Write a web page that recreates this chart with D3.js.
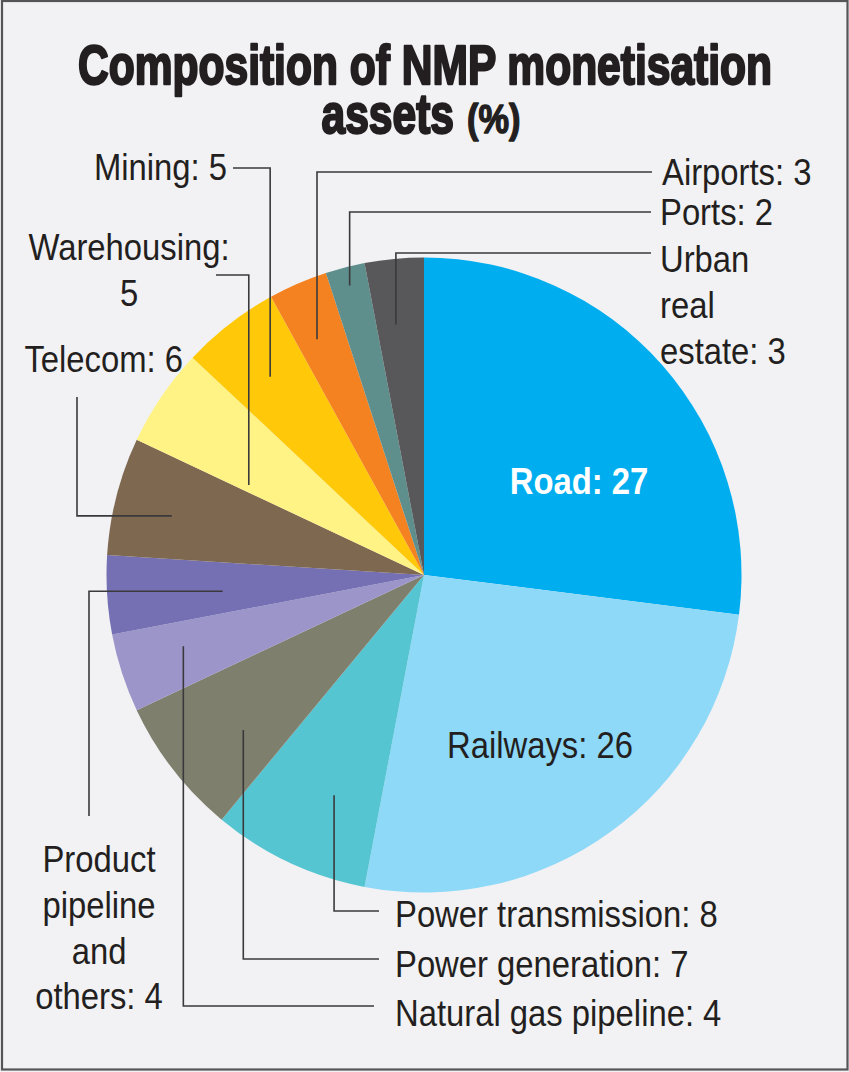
<!DOCTYPE html>
<html>
<head>
<meta charset="utf-8">
<script src="https://cdn.jsdelivr.net/npm/d3@7"></script>
<style>
  html, body { margin: 0; padding: 0; background: #f2f2f4; }
  svg { display: block; }
  text { font-family: "Liberation Sans", Arial, sans-serif; fill: #231f20; }
</style>
</head>
<body>
<div id="chart"></div>
<script>
// data (clockwise from 12 o'clock)
const categories = ["Road", "Railways", "Power transmission", "Power generation",
  "Natural gas pipeline", "Product pipeline and others", "Telecom", "Warehousing",
  "Mining", "Airports", "Ports", "Urban real estate"];
const shares = [27, 26, 8, 7, 4, 4, 6, 5, 5, 3, 2, 3];
const colours = ["#00aeef", "#8ed8f8", "#55c5d1", "#7f7f6e", "#9c95c9", "#7470b3",
  "#7e6850", "#fff385", "#ffc90a", "#f58220", "#5f8f8d", "#58585a"];
const labelLines = [
  ["Road: 27"], ["Railways: 26"], ["Power transmission: 8"], ["Power generation: 7"],
  ["Natural gas pipeline: 4"], ["Product", "pipeline", "and", "others: 4"], ["Telecom: 6"],
  ["Warehousing:", "5"], ["Mining: 5"], ["Airports: 3"], ["Ports: 2"], ["Urban", "real", "estate: 3"]
];

let W = 849, H = 1072;
let cx = 424, cy = 575, R = 317.5;
let fontSize = 37.5, squeeze = 0.875, lineGap = 45.8;

// label placement: leader start inside the slice (radius, angle nudge in degrees), its bend, and the text spot
let layout = {
  "Road":                        { inside: true, x: 579, y: 494, anchor: "middle", bold: true, fill: "#ffffff" },
  "Railways":                    { inside: true, x: 540, y: 758, anchor: "middle" },
  "Power transmission":          { r: 238, da: -3, path: "vh", turn: 911, end: 379, x: 395, y: 927, anchor: "start" },
  "Power generation":            { r: 238, da: -2.8, path: "vh", turn: 959, end: 379, x: 395, y: 977, anchor: "start" },
  "Natural gas pipeline":        { r: 251, da: 1.5, path: "vh", turn: 1006, end: 374, x: 395, y: 1026, anchor: "start" },
  "Product pipeline and others": { r: 202, da: -1, path: "hv", turn: 89, end: 816, x: 99, y: 872, anchor: "middle" },
  "Telecom":                     { r: 259, da: -1.2, path: "hv", turn: 77, end: 397, x: 183, y: 372, anchor: "end" },
  "Warehousing":                 { r: 197, da: -7, path: "vh", turn: 275, end: 216, x: 129, y: 260, anchor: "middle" },
  "Mining":                      { r: 251, da: 0, path: "vh", turn: 168, end: 233, x: 227, y: 180, anchor: "end" },
  "Airports":                    { r: 259, da: -1, path: "vh", turn: 172, end: 652, x: 662, y: 185, anchor: "start" },
  "Ports":                       { r: 299, da: 0, path: "vh", turn: 212, end: 651, x: 660, y: 225, anchor: "start" },
  "Urban real estate":           { r: 252, da: -1, path: "vh", turn: 253, end: 651, x: 660, y: 272, anchor: "start" }
};

let data = categories.map((c, i) => ({ name: c, value: shares[i], colour: colours[i], lines: labelLines[i] }));

let svg = d3.select("#chart").append("svg")
  .attr("width", W)
  .attr("height", H)
  .attr("viewBox", `0 0 ${W} ${H}`);

svg.append("rect")
  .attr("x", 2).attr("y", 1)
  .attr("width", W - 3.5).attr("height", H - 3.5)
  .attr("fill", "#f2f2f4")
  .attr("stroke", "#555557")
  .attr("stroke-width", 2.2);

// title
svg.append("text")
  .attr("transform", `translate(425,84) scale(0.76,1)`)
  .attr("text-anchor", "middle")
  .style("font-size", "56px")
  .style("font-weight", "bold")
  .style("stroke", "#231f20")
  .style("stroke-width", "2.4px")
  .style("stroke-linejoin", "round")
  .text("Composition of NMP monetisation");

svg.append("text")
  .attr("transform", `translate(454,133) scale(0.76,1)`)
  .attr("text-anchor", "end")
  .style("font-size", "56px")
  .style("font-weight", "bold")
  .style("stroke", "#231f20")
  .style("stroke-width", "2.4px")
  .style("stroke-linejoin", "round")
  .text("assets");

svg.append("text")
  .attr("transform", `translate(467,133) scale(0.86,1)`)
  .attr("text-anchor", "start")
  .style("font-size", "40px")
  .style("font-weight", "bold")
  .style("stroke", "#231f20")
  .style("stroke-width", "1.4px")
  .style("stroke-linejoin", "round")
  .text("(%)");

let pie = d3.pie().sort(null).value(d => d.value);
let arc = d3.arc().innerRadius(0).outerRadius(R);
let arcs = pie(data);

let g = svg.append("g").attr("transform", `translate(${cx},${cy})`);

g.selectAll("path.slice")
  .data(arcs)
  .enter()
  .append("path")
  .attr("class", "slice")
  .attr("d", arc)
  .attr("fill", d => d.data.colour);

// leader lines, drawn in page coordinates
let leaders = svg.append("g").attr("class", "leaders");
arcs.forEach(a => {
  let L = layout[a.data.name];
  if (L.inside) return;
  let mid = (a.startAngle + a.endAngle) / 2 + L.da * Math.PI / 180;
  let px = cx + L.r * Math.sin(mid);
  let py = cy - L.r * Math.cos(mid);
  let p = d3.path();
  p.moveTo(px, py);
  if (L.path === "vh") {
    p.lineTo(px, L.turn);
    p.lineTo(L.end, L.turn);
  } else {
    p.lineTo(L.turn, py);
    p.lineTo(L.turn, L.end);
  }
  leaders.append("path")
    .attr("d", p.toString())
    .attr("fill", "none")
    .attr("stroke", "#3a3a3c")
    .attr("stroke-width", 1.6);
});

// labels
let labels = svg.append("g").attr("class", "labels");
arcs.forEach(a => {
  let L = layout[a.data.name];
  a.data.lines.forEach((line, k) => {
    labels.append("text")
      .attr("transform", `translate(${L.x},${L.y + k * lineGap}) scale(${squeeze},1)`)
      .attr("text-anchor", L.anchor)
      .style("font-size", fontSize + "px")
      .style("font-weight", L.bold ? "bold" : "normal")
      .style("fill", L.fill || "#231f20")
      .text(line);
  });
});
</script>
</body>
</html>
